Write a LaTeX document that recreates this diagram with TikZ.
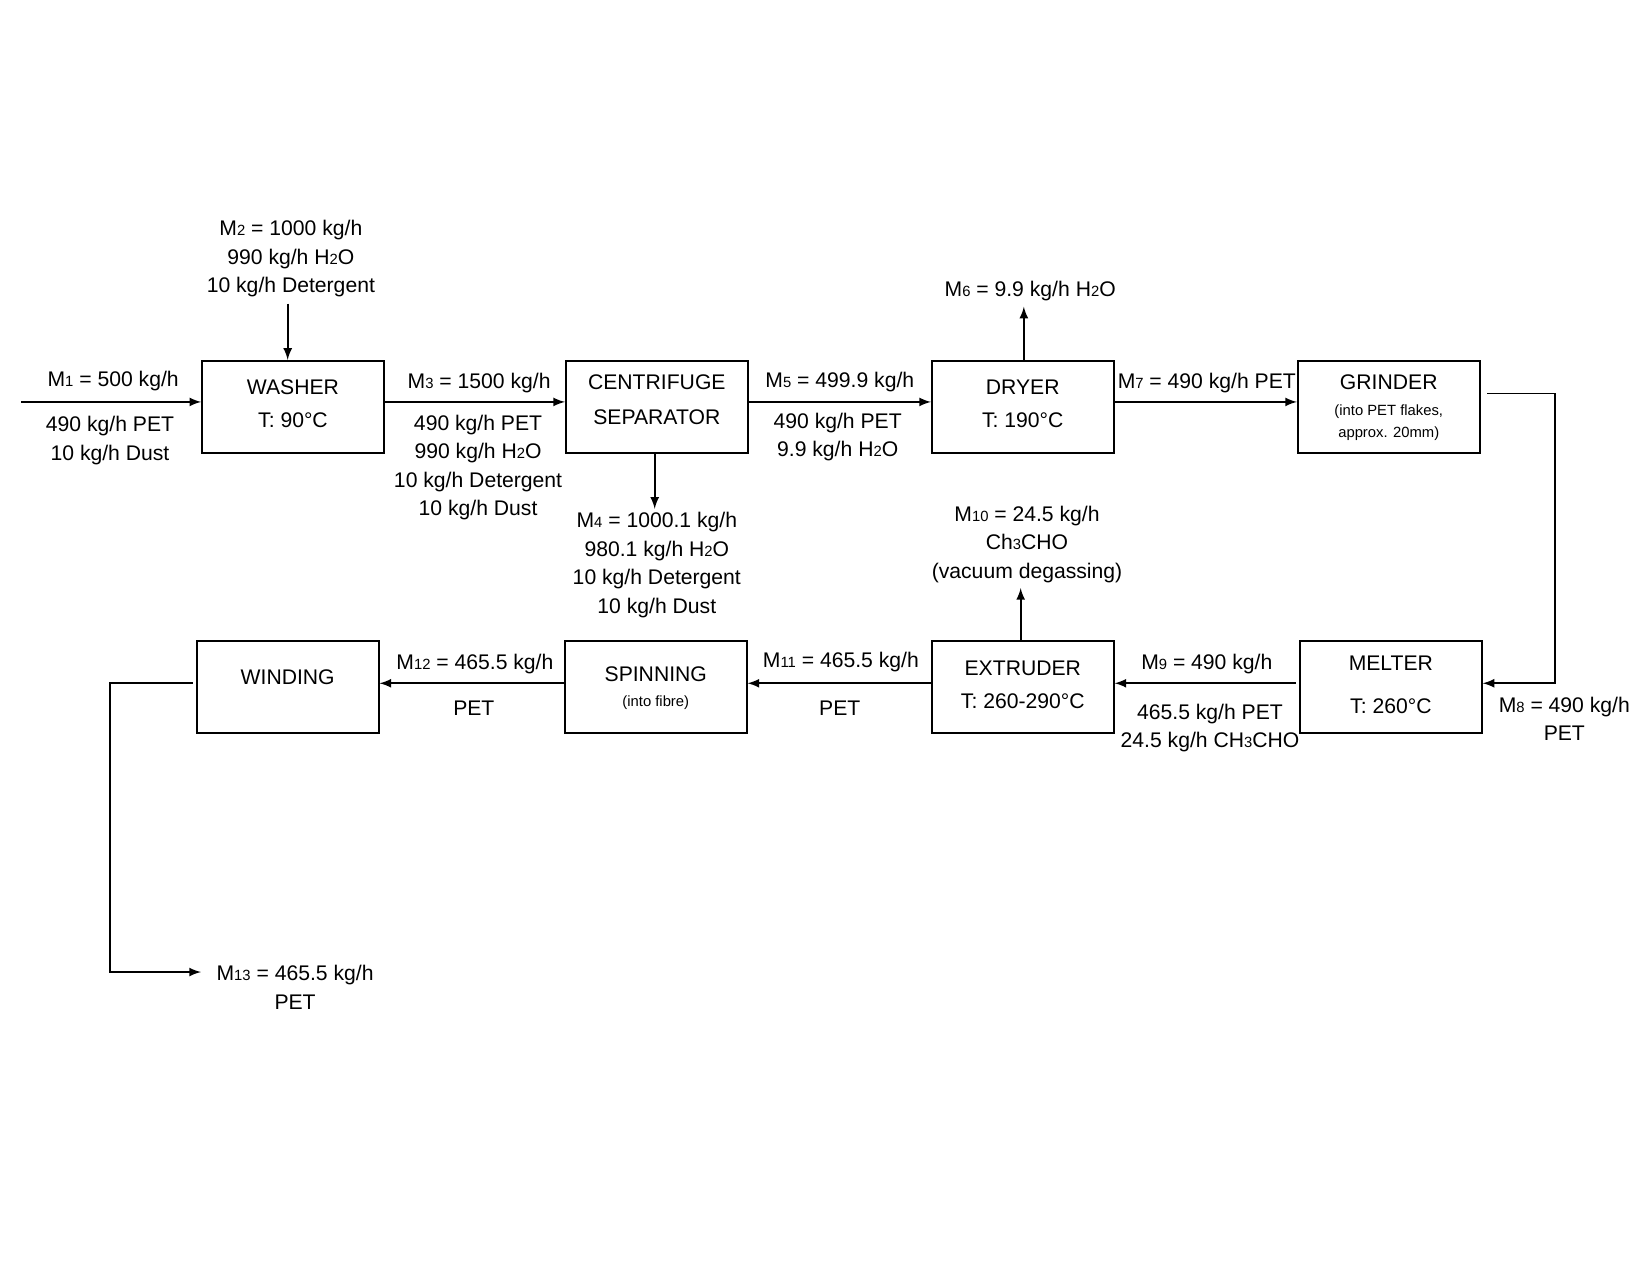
\documentclass[tikz,border=0pt]{standalone}
\usepackage{fontspec}
\setmainfont{Liberation Sans}
\newcommand{\ssb}[1]{{\fontsize{7}{8}\selectfont #1}}
\begin{document}
\begin{tikzpicture}[x=0.5pt,y=-0.5pt,
  box/.style={draw,line width=0.8pt,minimum width=86pt,minimum height=43.5pt,inner sep=0pt},
  lab/.style={align=center,font=\fontsize{10}{13.5}\selectfont,inner sep=0pt},
  small/.style={font=\fontsize{7}{10.5}\selectfont,inner sep=0pt,align=center},
  flow/.style={line width=0.9pt,-latex}]
\useasboundingbox (0,0) rectangle (1560,1205);
\fill[white] (0,0) rectangle (1560,1205);
\node[box] (wash) at (277,384.5) {};
\node[box] (cent) at (621,384.5) {};
\node[box] (dry) at (967,384.5) {};
\node[box] (grind) at (1313,384.5) {};
\node[box] (melt) at (1315,649.5) {};
\node[box] (extr) at (967,649.5) {};
\node[box] (spin) at (620,649.5) {};
\node[box] (wind) at (272,649.5) {};
% box texts
\node[lab] at (277,366) {WASHER};
\node[lab] at (277,397) {T: 90°C};
\node[lab] at (621,361) {CENTRIFUGE};
\node[lab] at (621,394) {SEPARATOR};
\node[lab] at (967,366) {DRYER};
\node[lab] at (967,397) {T: 190°C};
\node[lab] at (1313,361) {GRINDER};
\node[small] at (1313,399.5) {(into PET flakes,\\approx. 20mm)};
\node[lab] at (1315,627) {MELTER};
\node[lab] at (1315,668) {T: 260°C};
\node[lab] at (967,632) {EXTRUDER};
\node[lab] at (967,663) {T: 260-290°C};
\node[lab] at (620,637) {SPINNING};
\node[small] at (620,664) {(into fibre)};
\node[lab] at (272,640) {WINDING};
% coordinates
\coordinate (m1s) at (20,380);
\coordinate (m2s) at (272,287);
\coordinate (m4e) at (619,481);
\coordinate (m6e) at (968,290);
\coordinate (m10e) at (965,556);
\coordinate (g1) at (1406,372);
\coordinate (g2) at (1470,372);
\coordinate (g3) at (1470,646);
\coordinate (w1) at (182,646);
\coordinate (w2) at (104,646);
\coordinate (w3) at (104,919);
\coordinate (w4) at (190,919);
% flows
\draw[flow] (m1s) -- (wash.west|-m1s);
\draw[flow] (m2s) -- (wash.north-|m2s);
\draw[flow] (wash.east|-m1s) -- (cent.west|-m1s);
\draw[flow] (cent.south-|m4e) -- (m4e);
\draw[flow] (cent.east|-m1s) -- (dry.west|-m1s);
\draw[flow] (dry.north-|m6e) -- (m6e);
\draw[flow] (dry.east|-m1s) -- (grind.west|-m1s);
\draw[flow] (g1) -- (g2) -- (g3) -- (melt.east|-g3);
\draw[flow] (1225,646) -- (extr.east|-g3);
\draw[flow] (extr.north-|m10e) -- (m10e);
\draw[flow] (extr.west|-g3) -- (spin.east|-g3);
\draw[flow] (spin.west|-g3) -- (wind.east|-g3);
\draw[flow] (w1) -- (w2) -- (w3) -- (w4);
% labels
\node[lab] at (107,360) {M\ssb{1} = 500 kg/h};
\node[lab] at (104,416.5) {490 kg/h PET\\10 kg/h Dust};
\node[lab] at (275,244.5) {M\ssb{2} = 1000 kg/h\\990 kg/h H\ssb{2}O\\10 kg/h Detergent};
\node[lab] at (453,362) {M\ssb{3} = 1500 kg/h};
\node[lab] at (452,442) {490 kg/h PET\\990 kg/h H\ssb{2}O\\10 kg/h Detergent\\10 kg/h Dust};
\node[lab] at (621,534) {M\ssb{4} = 1000.1 kg/h\\980.1 kg/h H\ssb{2}O\\10 kg/h Detergent\\10 kg/h Dust};
\node[lab] at (794,361) {M\ssb{5} = 499.9 kg/h};
\node[lab] at (792,413) {490 kg/h PET\\9.9 kg/h H\ssb{2}O};
\node[lab] at (974,275) {M\ssb{6} = 9.9 kg/h H\ssb{2}O};
\node[lab] at (1141,362) {M\ssb{7} = 490 kg/h PET};
\node[lab] at (1479,679.5) {M\ssb{8} = 490 kg/h\\PET};
\node[lab] at (1141,628) {M\ssb{9} = 490 kg/h};
\node[lab] at (1144,688.5) {465.5 kg/h PET\\24.5 kg/h CH\ssb{3}CHO};
\node[lab] at (971,514.5) {M\ssb{10} = 24.5 kg/h\\Ch\ssb{3}CHO\\(vacuum degassing)};
\node[lab] at (795,626) {M\ssb{11} = 465.5 kg/h};
\node[lab] at (794,670) {PET};
\node[lab] at (449,628) {M\ssb{12} = 465.5 kg/h};
\node[lab] at (448,670) {PET};
\node[lab] at (279,933.5) {M\ssb{13} = 465.5 kg/h\\PET};
\end{tikzpicture}
\end{document}
